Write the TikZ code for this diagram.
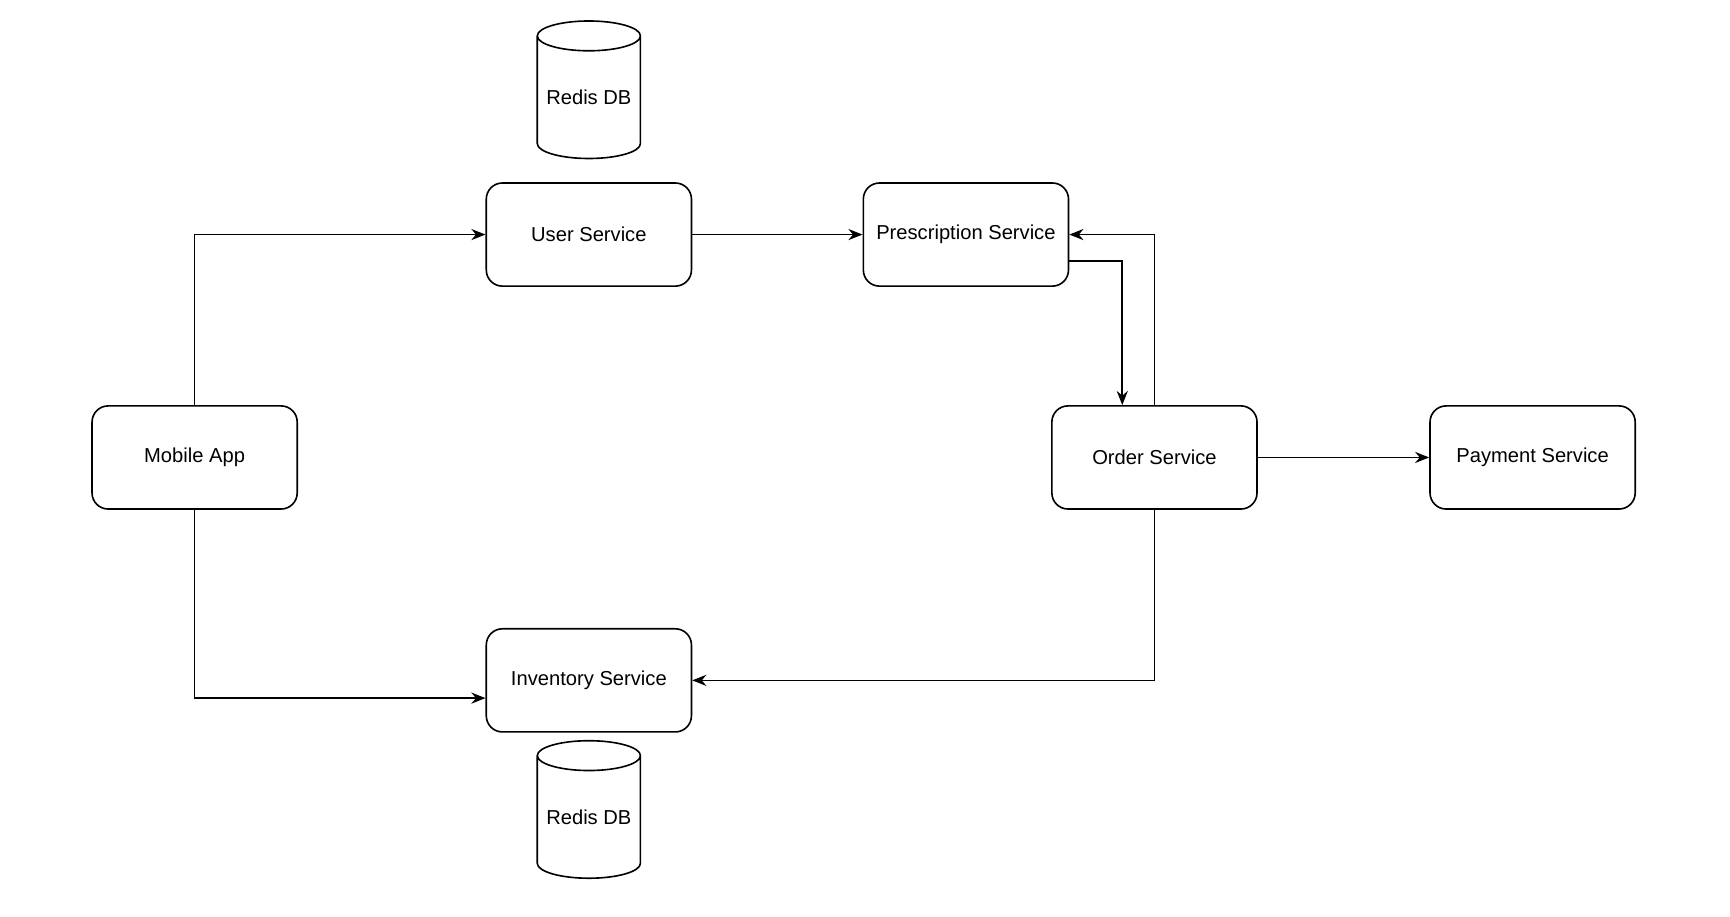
\documentclass[tikz,border=0pt]{standalone}
\usepackage{fontspec}
\setmainfont{Liberation Sans}
\usetikzlibrary{positioning,arrows.meta,shapes.geometric}
\tikzset{svc/.style={draw,thick,rounded corners=8pt,minimum width=185*0.55pt,minimum height=93*0.55pt,inner sep=0pt,font=\fontsize{10}{12}\selectfont},
db/.style={draw,thick,cylinder,shape border rotate=90,aspect=0.35,minimum width=93*0.55pt,minimum height=124*0.55pt,inner sep=0pt,font=\fontsize{10}{12}\selectfont}}

\begin{document}
\begin{tikzpicture}[x=0.55pt,y=-0.55pt]
		\useasboundingbox (0,0) rectangle (1560,826);
		\node[svc] (mobile) at (175.5,412.5) {Mobile App};
		\node[svc] (user) at (531,211.5) {User Service};
		\node[svc] (presc) at (871,211.5) {Prescription Service};
		\node[svc] (order) at (1041,412.5) {Order Service};
		\node[svc] (pay) at (1382,412.5) {Payment Service};
		\node[svc] (inv) at (531,613.5) {Inventory Service};
		\node[db] (redisA) at (531,88) {Redis DB};
		\node[db] (redisB) at (531,737) {Redis DB};

		\begin{scope}[>={Stealth[length=7pt,width=5.5pt]},thick]
			\draw[->] (mobile.north) |- (user.west);
			\draw[->] (mobile.south) |- ([yshift=-16*0.55pt]inv.west);
			\draw[->] (user) -- (presc);
			\draw[->] ([yshift=-24*0.55pt]presc.east) -| ([xshift=-29*0.55pt]order.north);
			\draw[->] (order.north) |- (presc.east);
			\draw[->] (order) -- (pay);
			\draw[->] (order.south) |- (inv.east);
		\end{scope}
	\end{tikzpicture}
\end{document}
